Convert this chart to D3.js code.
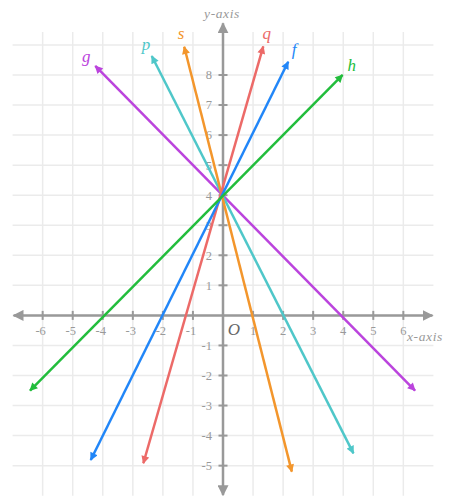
<!DOCTYPE html>
<html>
<head>
<meta charset="utf-8">
<script src="https://cdn.jsdelivr.net/npm/d3@7"></script>
<style>
  body { margin: 0; background: #fff; }
</style>
</head>
<body>
<div id="chart"></div>
<script>
// line names, colours and endpoints (x1, y1, x2, y2)
var lineNames = ["g", "p", "s", "q", "f", "h"];
var lineColors = ["#bb44dd", "#4fc7c9", "#f3962c", "#ec6a68", "#2186f8", "#22bd3c"];
var lineStart = [[-4.25, 8.3], [-2.37, 8.63], [-1.29, 8.94], [1.34, 8.95], [2.17, 8.44], [3.98, 8.0]];
var lineEnd = [[6.39, -2.5], [4.34, -4.59], [2.29, -5.2], [-2.65, -4.92], [-4.4, -4.81], [-6.42, -2.5]];

var xTicks = [-6, -5, -4, -3, -2, -1, 1, 2, 3, 4, 5, 6];
var yTicks = [-5, -4, -3, -2, -1, 1, 2, 3, 4, 5, 6, 7, 8];
var xGrid = [-6, -5, -4, -3, -2, -1, 0, 1, 2, 3, 4, 5, 6];
var yGrid = [-5, -4, -3, -2, -1, 0, 1, 2, 3, 4, 5, 6, 7, 8, 9];

var width = 460,
    height = 500;

var x = d3.scaleLinear().domain([-7, 7]).range([12.6, 433.4]);
var y = d3.scaleLinear().domain([-6, 9.43]).range([495.7, 32]);

var axisColor = "#999999",
    serif = "'Liberation Serif', 'DejaVu Serif', serif";

var svg = d3.select("#chart")
    .append("svg")
    .attr("width", width)
    .attr("height", height);

// arrow markers
var defs = svg.append("defs");

function addMarker(id, color, len, wid) {
    defs.append("marker")
        .attr("id", id)
        .attr("markerUnits", "userSpaceOnUse")
        .attr("viewBox", "0 0 10 10")
        .attr("refX", 9)
        .attr("refY", 5)
        .attr("markerWidth", len)
        .attr("markerHeight", wid)
        .attr("orient", "auto-start-reverse")
        .append("path")
        .attr("d", "M0,0 L10,5 L0,10 z")
        .attr("fill", color);
}

addMarker("arrow-axis", axisColor, 11, 11);
lineNames.forEach(function(n, i) { addMarker("arrow-" + n, lineColors[i], 9, 8); });

// grid

var grid = svg.append("g").attr("stroke", "#ebebeb").attr("stroke-width", 1.5);

grid.selectAll("line.v")
    .data(xGrid)
    .enter().append("line")
    .attr("class", "v")
    .attr("x1", function(d) { return x(d); })
    .attr("x2", function(d) { return x(d); })
    .attr("y1", y(-6))
    .attr("y2", y(9.43));

grid.selectAll("line.h")
    .data(yGrid)
    .enter().append("line")
    .attr("class", "h")
    .attr("x1", x(-7))
    .attr("x2", x(7))
    .attr("y1", function(d) { return y(d); })
    .attr("y2", function(d) { return y(d); });

// axes

var axes = svg.append("g").attr("stroke", axisColor).attr("stroke-width", 2.5);

axes.append("line")
    .attr("x1", x(-7) + 1).attr("x2", x(7) - 1)
    .attr("y1", y(0)).attr("y2", y(0))
    .attr("marker-start", "url(#arrow-axis)")
    .attr("marker-end", "url(#arrow-axis)");

axes.append("line")
    .attr("x1", x(0)).attr("x2", x(0))
    .attr("y1", y(-5.98)).attr("y2", y(9.72))
    .attr("marker-start", "url(#arrow-axis)")
    .attr("marker-end", "url(#arrow-axis)");

axes.selectAll("line.xt")
    .data(xTicks)
    .enter().append("line")
    .attr("class", "xt")
    .attr("stroke-width", 2)
    .attr("x1", function(d) { return x(d); })
    .attr("x2", function(d) { return x(d); })
    .attr("y1", y(0) - 4.5)
    .attr("y2", y(0) + 4.5);

axes.selectAll("line.yt")
    .data(yTicks)
    .enter().append("line")
    .attr("class", "yt")
    .attr("stroke-width", 2)
    .attr("x1", x(0) - 4.5)
    .attr("x2", x(0) + 4.5)
    .attr("y1", function(d) { return y(d); })
    .attr("y2", function(d) { return y(d); });

// tick labels

svg.selectAll("text.xl")
    .data(xTicks)
    .enter().append("text")
    .attr("class", "xl")
    .attr("x", function(d) { return x(d) - (d < 0 ? 2 : 0); })
    .attr("y", y(0) + 20)
    .attr("text-anchor", "middle")
    .attr("font-family", serif)
    .attr("font-size", "12.5px")
    .attr("fill", axisColor)
    .text(function(d) { return d; });

svg.selectAll("text.yl")
    .data(yTicks)
    .enter().append("text")
    .attr("class", "yl")
    .attr("x", x(0) - 11)
    .attr("y", function(d) { return y(d); })
    .attr("dy", "0.35em")
    .attr("text-anchor", "end")
    .attr("font-family", serif)
    .attr("font-size", "12.5px")
    .attr("fill", axisColor)
    .text(function(d) { return d; });

svg.append("text")
    .attr("x", x(0) + 11)
    .attr("y", y(0) + 20)
    .attr("text-anchor", "middle")
    .attr("font-family", serif)
    .attr("font-style", "italic")
    .attr("font-size", "17px")
    .attr("fill", "#666666")
    .text("O");

svg.append("text")
    .attr("x", 407)
    .attr("y", y(0) + 26)
    .attr("font-family", serif)
    .attr("font-style", "italic")
    .attr("font-size", "13.5px")
    .attr("letter-spacing", "0.6px")
    .attr("fill", axisColor)
    .text("x-axis");

svg.append("text")
    .attr("x", x(0) - 1)
    .attr("y", 18)
    .attr("text-anchor", "middle")
    .attr("font-family", serif)
    .attr("font-style", "italic")
    .attr("font-size", "13.5px")
    .attr("letter-spacing", "0.6px")
    .attr("fill", axisColor)
    .text("y-axis");

// the lines with arrow heads on both ends

var lines = svg.append("g");

lines.selectAll("line")
    .data(lineNames)
    .enter().append("line")
    .attr("x1", function(d, i) { return x(lineStart[i][0]); })
    .attr("y1", function(d, i) { return y(lineStart[i][1]); })
    .attr("x2", function(d, i) { return x(lineEnd[i][0]); })
    .attr("y2", function(d, i) { return y(lineEnd[i][1]); })
    .attr("stroke", function(d, i) { return lineColors[i]; })
    .attr("stroke-width", 2.5)
    .attr("marker-start", function(d) { return "url(#arrow-" + d + ")"; })
    .attr("marker-end", function(d) { return "url(#arrow-" + d + ")"; });

// names just past the upper arrow head

lines.selectAll("text")
    .data(lineNames)
    .enter().append("text")
    .attr("x", function(d, i) {
        var dx = x(lineStart[i][0]) - x(lineEnd[i][0]),
            dy = y(lineStart[i][1]) - y(lineEnd[i][1]),
            len = Math.sqrt(dx * dx + dy * dy);
        return x(lineStart[i][0]) + dx / len * 13;
    })
    .attr("y", function(d, i) {
        var dx = x(lineStart[i][0]) - x(lineEnd[i][0]),
            dy = y(lineStart[i][1]) - y(lineEnd[i][1]),
            len = Math.sqrt(dx * dx + dy * dy);
        return y(lineStart[i][1]) + dy / len * 13;
    })
    .attr("dy", "0.3em")
    .attr("text-anchor", "middle")
    .attr("font-family", serif)
    .attr("font-style", "italic")
    .attr("font-size", "17px")
    .attr("fill", function(d, i) { return lineColors[i]; })
    .text(function(d) { return d; });
</script>
</body>
</html>
